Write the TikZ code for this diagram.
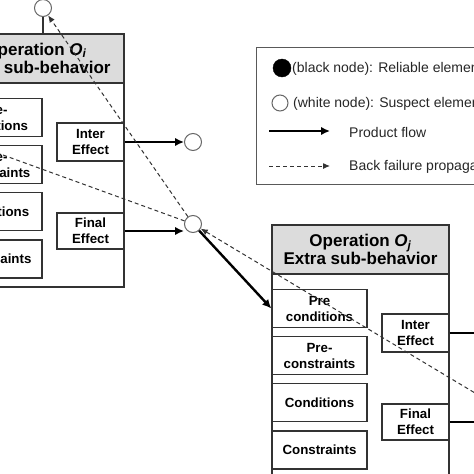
\documentclass[tikz,border=0pt]{standalone}
\usepackage{fontspec}
\setmainfont{Liberation Sans}
\usetikzlibrary{arrows.meta}
\definecolor{bord}{HTML}{333333}
\definecolor{hdrfill}{HTML}{DCDCDC}
\tikzset{
  outerbox/.style={draw=bord, line width=1.4pt, inner sep=0pt},
  hdrbox/.style={draw=bord, fill=hdrfill, line width=1.4pt, inner sep=0pt, align=center,
    font=\bfseries\fontsize{17}{18.5}\selectfont, minimum width=177pt, minimum height=49pt},
  inbox/.style={draw=bord, fill=white, line width=1.3pt, inner sep=0pt, align=center,
    font=\bfseries\fontsize{13.3}{16}\selectfont, minimum width=95pt, minimum height=38pt},
  effbox/.style={inbox, minimum width=67pt},
  circ/.style={circle, draw=black!60, fill=white, line width=1pt, minimum size=17pt, inner sep=0pt},
  flow/.style={line width=2.4pt, draw=black, -{Latex[length=9pt,width=8.5pt]}},
  back/.style={draw=black!80, line width=1pt, dash pattern=on 4pt off 3pt,
    -{Latex[length=7pt,width=6pt]}},
  legtext/.style={anchor=west, inner sep=0pt, font=\fontsize{14}{16}\selectfont, text=black!85},
}
\begin{document}
\begin{tikzpicture}[x=1pt,y=-1pt]
\useasboundingbox (0,0) rectangle (474,474);
\clip (0,0) rectangle (474,474);

% ---- left operation box (O_i) ----
\node[outerbox, minimum width=177pt, minimum height=204pt] (bodyL) at (35.5,185) {};
\node[hdrbox] (hdrL) at (35.5,58.5) {Operation {\itshape O}\textsubscript{\itshape i}\\Main sub-behavior};
\node[inbox] (preL)  at (-5.5,117.5) {Pre-\\conditions};
\node[inbox] (precL) at (-5.5,164.5) {Pre-\\constraints};
\node[inbox] (condL) at (-5.5,211.5) {Conditions};
\node[inbox] (consL) at (-5.5,259) {Constraints};
\node[effbox] (interL) at (90.5,142) {Inter\\Effect};
\node[effbox, minimum height=36pt] (finalL) at (90.5,231) {Final\\Effect};

% ---- right operation box (O_j) ----
\node[outerbox, minimum width=177pt, minimum height=204pt] (bodyR) at (360.5,376) {};
\node[hdrbox] (hdrR) at (360.5,249.5) {Operation {\itshape O}\textsubscript{\itshape j}\\Extra sub-behavior};
\node[inbox] (preR)  at (319.5,308.5) {Pre\\conditions};
\node[inbox] (precR) at (319.5,355.5) {Pre-\\constraints};
\node[inbox] (condR) at (319.5,402.5) {Conditions};
\node[inbox] (consR) at (319.5,450) {Constraints};
\node[effbox] (interR) at (415.5,333) {Inter\\Effect};
\node[effbox, minimum height=36pt] (finalR) at (415.5,422) {Final\\Effect};

% ---- circles ----
\node[circ] (c0) at (43,8) {};
\node[circ] (c1) at (193,142) {};
\node[circ] (c2) at (193,224) {};

% ---- product flow ----
\draw[bord, line width=1.3pt] (c0.south) -- (c0.south |- hdrL.north);
\draw[flow] (interL.east) -- (c1);
\draw[flow] (finalL.east) -- (finalL.east -| c2.west);
\draw[flow] (c2) -- (preR.west);
\coordinate (outI) at (500,333);
\coordinate (outF) at (500,422);
\draw[flow] (interR.east) -- (outI);
\draw[flow] (finalR.east) -- (outF);

% ---- back failure propagation ----
\coordinate (bk1) at (480,396);
\coordinate (bk2) at (-30,143);
\draw[back] (bk1) -- (c2);
\draw[back] (c2) -- (bk2);
\draw[back] (c2) -- (c0);

% ---- legend ----
\node[draw=black!65, line width=0.8pt, fill=none, minimum width=240pt, minimum height=137pt, inner sep=0pt]
  (legend) at (376,115.5) {};
\node[circle, fill=black, draw=black, minimum size=18pt, inner sep=0pt] (lb) at (282,68) {};
\node[legtext] (lbt) at (292,69) {(black node): Reliable element};
\node[circle, draw=black!60, fill=white, line width=1pt, minimum size=16pt, inner sep=0pt] (lw) at (280,103) {};
\node[legtext] (lwt) at (293,104) {(white node): Suspect element};
\coordinate (lf1) at (269,131);
\coordinate (lf2) at (330,131);
\draw[flow] (lf1) -- (lf2);
\node[legtext] (lft) at (349,132) {Product flow};
\coordinate (ld1) at (269,166);
\coordinate (ld2) at (330,166);
\draw[back] (ld1) -- (ld2);
\node[legtext] (ldt) at (349,167) {Back failure propagation};
\end{tikzpicture}
\end{document}
